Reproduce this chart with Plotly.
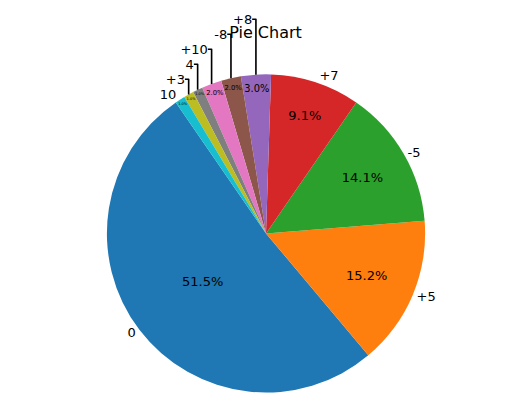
import plotly.graph_objects as go

labels = ["0", "+5", "-5", "+7", "+8", "-8", "+10", "4", "+3", "10"]
counts = [51, 15, 14, 9, 3, 2, 2, 1, 1, 1]
colors = ["#1f77b4", "#ff7f0e", "#2ca02c", "#d62728", "#9467bd",
          "#8c564b", "#e377c2", "#7f7f7f", "#bcbd22", "#17becf"]

font = dict(family="DejaVu Sans", size=13, color="black")
dom = dict(x=[0.175, 0.827], y=[0.068, 0.886])

fig = go.Figure()
fig.add_trace(go.Pie(
    labels=labels, values=counts, sort=False, direction="counterclockwise",
    rotation=140, marker=dict(colors=colors), texttemplate="%{percent:.1%}",
    textposition="inside", insidetextorientation="horizontal",
    textfont=font, domain=dom, showlegend=False, hoverinfo="skip",
))
fig.add_trace(go.Pie(
    labels=labels, values=counts, sort=False, direction="counterclockwise",
    rotation=140, marker=dict(colors=["rgba(0,0,0,0)"] * len(labels)),
    texttemplate="%{label}", textposition="outside", textfont=font,
    domain=dom, showlegend=False, hoverinfo="skip",
))
fig.update_layout(
    width=515, height=411, margin=dict(l=0, r=0, t=0, b=0),
    paper_bgcolor="white", font=font,
    title=dict(text="Pie Chart", x=0.5, y=0.955, xanchor="center",
               font=dict(family="DejaVu Sans", size=16, color="black")),
)
fig.write_html("out.html")
